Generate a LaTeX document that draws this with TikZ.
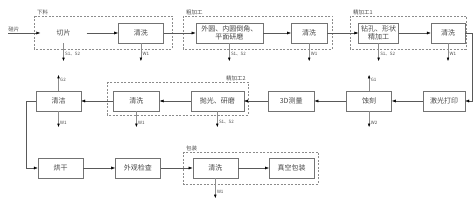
\documentclass[tikz,border=0pt]{standalone}
\usepackage{fontspec}
\setmainfont{Noto Sans CJK SC}
\usepackage{tikz}
\usetikzlibrary{arrows.meta,positioning}

\begin{document}
\begin{tikzpicture}[
  x=1pt,y=-1pt,
  font=\fontsize{7}{8.5}\selectfont,
  box/.style={draw=black!55,text=black!72,align=center,inner sep=1pt,minimum width=45pt,minimum height=20pt},
  grp/.style={draw=black!45,dash pattern=on 2pt off 1.5pt},
  glab/.style={font=\fontsize{5.5}{6}\selectfont,text=black!70,anchor=south west,inner sep=1pt},
  elab/.style={font=\fontsize{4.5}{5}\selectfont,text=black!70,right,inner sep=1.5pt},
  arr/.style={draw=black!65,-{Latex[black,length=4pt,width=3pt]}},
  emi/.style={draw=black!45,-{Latex[black,length=3.5pt,width=2.5pt]}}
]
\useasboundingbox (0,0) rectangle (474,200);

% row 1
\node[box,draw=none,minimum width=46pt] (qiepian) at (63.5,33) {切片};
\node[box,right=31.5pt of qiepian] (qx1) {清洗};
\node[box,minimum width=67pt,right=32pt of qx1] (cjg) {外圆、内圆倒角、\\平面研磨};
\node[box,minimum width=36pt,right=28pt of cjg] (qx2) {清洗};
\node[box,minimum width=40pt,right=31pt of qx2] (zk) {钻孔、形状\\精加工};
\node[box,minimum width=34pt,right=32pt of zk] (qx3) {清洗};

% row 2
\node[box,minimum width=42pt] (jgdy) at (444,101) {激光打印};
\node[box,left=31pt of jgdy] (sk) {蚀刻};
\node[box,minimum width=46pt,left=32pt of sk] (cl) {3D测量};
\node[box,minimum width=53pt,left=24pt of cl] (pg) {抛光、研磨};
\node[box,minimum width=46pt,left=31pt of pg] (qx4) {清洗};
\node[box,left=32pt of qx4] (qj) {清洁};

% row 3
\node[box] (hg) at (60.5,168) {烘干};
\node[box,right=32pt of hg] (wg) {外观检查};
\node[box,right=32pt of wg] (qx5) {清洗};
\node[box,right=31pt of qx5] (zkbz) {真空包装};

% groups
\draw[grp] (34,16) rectangle (172,49);
\node[glab] (lxl) at (36,16) {下料};
\draw[grp] (183,16) rectangle (332,49);
\node[glab] (lcjg) at (185,16) {粗加工};
\draw[grp] (350,16) rectangle (466,49);
\node[glab] (ljjg1) at (352,16) {精加工1};
\draw[grp] (107,82) rectangle (248,115);
\node[glab,anchor=south east] (ljjg2) at (247,82) {精加工2};
\draw[grp] (183,152) rectangle (318,184);
\node[glab] (lbz) at (185,152) {包装};

% main flow
\coordinate (gp) at (8,33);
\draw[arr] (gp) -- node[glab,pos=0.18,anchor=south] (lgp) {硅片} (qiepian.west);
\draw[arr] (qiepian) -- (qx1);
\draw[arr] (qx1) -- (cjg);
\draw[arr] (cjg) -- (qx2);
\draw[arr] (qx2) -- (zk);
\draw[arr] (zk) -- (qx3);
\draw[arr] (qx3.east) -- ++(7,0) |- (jgdy.east);
\draw[arr] (jgdy) -- (sk);
\draw[arr] (sk) -- (cl);
\draw[arr] (cl) -- (pg);
\draw[arr] (pg) -- (qx4);
\draw[arr] (qx4) -- (qj);
\draw[arr] (qj.west) -- ++(-10,0) |- (hg.west);
\draw[arr] (hg) -- (wg);
\draw[arr] (wg) -- (qx5);
\draw[arr] (qx5) -- (zkbz);

% emissions
\draw[emi] (qiepian.south) -- ++(0,18) node[elab,pos=0.6] (e1) {S1、S2};
\draw[emi] (qx1.south) -- ++(0,18) node[elab,pos=0.6] (e2) {W1};
\draw[emi] (cjg.south) -- ++(0,18) node[elab,pos=0.6] (e3) {S1、S2};
\draw[emi] (qx2.south) -- ++(0,18) node[elab,pos=0.6] (e4) {W1};
\draw[emi] (zk.south) -- ++(0,18) node[elab,pos=0.6] (e5) {S1、S2};
\draw[emi] (qx3.south) -- ++(0,18) node[elab,pos=0.6] (e6) {W1};
\draw[emi] (sk.north) -- ++(0,-16) node[elab,pos=0.7] (e7) {G1};
\draw[emi] (sk.south) -- ++(0,16) node[elab,pos=0.7] (e8) {W2};
\draw[emi] (pg.south) -- ++(0,16) node[elab,pos=0.7] (e9) {S1、S2};
\draw[emi] (qx4.south) -- ++(0,16) node[elab,pos=0.7] (e10) {W1};
\draw[emi] (qj.north) -- ++(0,-16) node[elab,pos=0.7] (e11) {G2};
\draw[emi] (qj.south) -- ++(0,16) node[elab,pos=0.7] (e12) {W1};
\draw[emi] (qx5.south) -- ++(0,20) node[elab,pos=0.7] (e13) {W1};
\end{tikzpicture}
\end{document}
